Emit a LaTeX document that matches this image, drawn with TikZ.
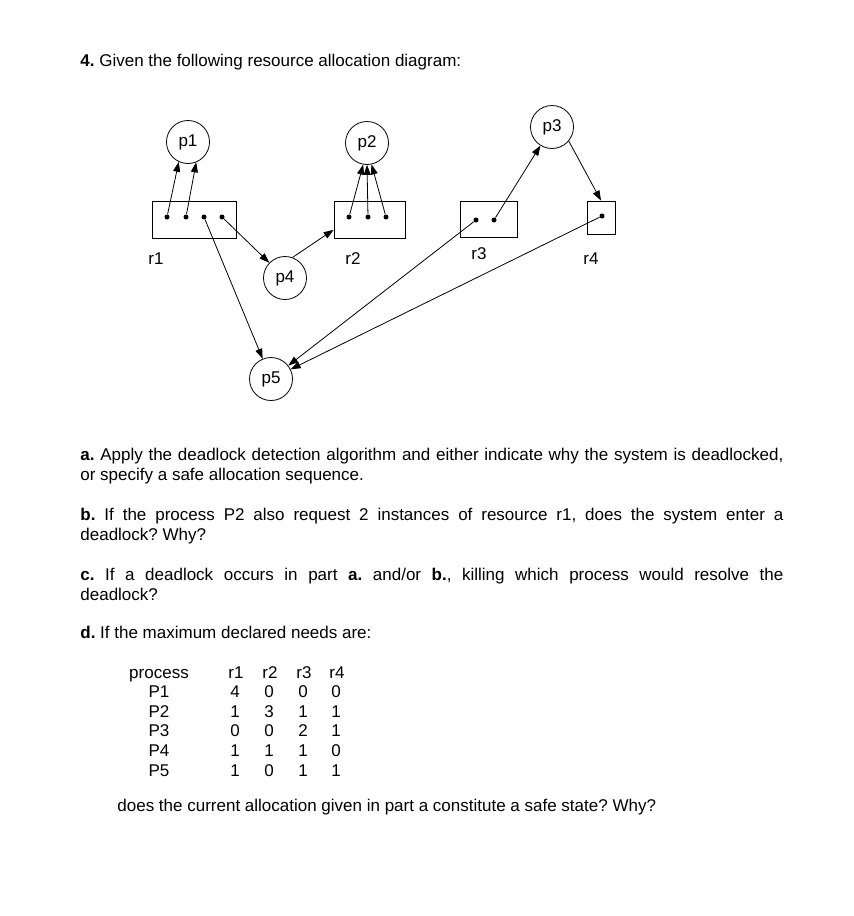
\documentclass[tikz,border=0pt]{standalone}
\usepackage{fontspec}
\setmainfont{Liberation Sans}
\usetikzlibrary{positioning,arrows.meta}

\newcommand{\bodysize}{\fontsize{17}{20}\selectfont}
\frenchspacing

\begin{document}
\begin{tikzpicture}[x=1pt,y=-1pt,line width=0.8pt,
  >={Triangle[length=10pt,width=7pt]},font=\bodysize]
  \tikzset{proc/.style={circle,draw,minimum size=43pt,inner sep=0pt},
           res/.style={draw,inner sep=0pt,minimum height=37pt},
           tok/.style={circle,fill,inner sep=0pt,minimum size=5pt},
           line/.style={anchor=base west,inner sep=0pt},
           cell/.style={anchor=base,inner sep=0pt}}
  \useasboundingbox (0,0) rectangle (854,916);

  \node[line] (title) at (80,66) {\textbf{4.} Given the following resource allocation diagram:};

  % processes
  \node[proc] (p1) at (188,142) {p1};
  \node[proc] (p2) at (367,143) {p2};
  \node[proc] (p3) at (552,127) {p3};
  \node[proc] (p4) at (285,278) {p4};
  \node[proc] (p5) at (271,379) {p5};

  % resources
  \node[res,minimum width=84pt] (r1) at (194,219.5) {};
  \node[res,minimum width=71pt] (r2) at (369.5,219.5) {};
  \node[res,minimum width=57pt,minimum height=36pt] (r3) at (488.5,219) {};
  \node[res,minimum width=28pt,minimum height=33pt] (r4) at (601,217.5) {};
  \node (r1lab) at (156,259) {r1};
  \node (r2lab) at (353,259) {r2};
  \node (r3lab) at (479,253.5) {r3};
  \node (r4lab) at (591,259) {r4};

  % instances
  \node[tok] (r1t1) at (167,217) {};
  \node[tok] (r1t2) at (186,217) {};
  \node[tok] (r1t3) at (204,217) {};
  \node[tok] (r1t4) at (222,217) {};
  \node[tok] (r2t1) at (349,217) {};
  \node[tok] (r2t2) at (368,217) {};
  \node[tok] (r2t3) at (386,217) {};
  \node[tok] (r3t1) at (476,220) {};
  \node[tok] (r3t2) at (494,220) {};
  \node[tok] (r4t1) at (602,216) {};

  \path[->]
  (r1t1)   edge (p1.245)
  (r1t2)   edge (p1.292)
  (r1t3)   edge (p5)
  (r1t4)   edge (p4)
  (p4.70)  edge (r2.196)
  (r2t1)   edge (p2.260)
  (r2t2)   edge (p2.270)
  (r2t3)   edge (p2.282)
  (r3t2)   edge (p3)
  (p3.320) edge (r4.north)
  (r3t1)   edge (p5)
  (r4t1)   edge (p5);

  % questions
  \node[line] (qa1) at (80,460) {\makebox[703pt][s]{\textbf{a.} Apply the deadlock detection algorithm and either indicate why the system is deadlocked,}};
  \node[line] (qa2) at (80,480) {or specify a safe allocation sequence.};
  \node[line] (qb1) at (80,520) {\makebox[703pt][s]{\textbf{b.} If the process P2 also request 2 instances of resource r1, does the system enter a}};
  \node[line] (qb2) at (80,540) {deadlock? Why?};
  \node[line] (qc1) at (80,580) {\makebox[703pt][s]{\textbf{c.} If a deadlock occurs in part \textbf{a.} and/or \textbf{b.}, killing which process would resolve the}};
  \node[line] (qc2) at (80,600) {deadlock?};
  \node[line] (qd) at (80,638.5) {\textbf{d.} If the maximum declared needs are:};

  % maximum needs
  \node[cell] (hproc) at (159,678) {process};
  \node[cell] (hr1) at (236,678) {r1};
  \node[cell] (hr2) at (270,678) {r2};
  \node[cell] (hr3) at (304,678) {r3};
  \node[cell] (hr4) at (337,678) {r4};
  \foreach \pn/\na/\nb/\nc/\nd [count=\i] in
    {P1/4/0/0/0, P2/1/3/1/1, P3/0/0/2/1, P4/1/1/1/0, P5/1/0/1/1} {
    \node[cell] (P\i) at (159,678+19.6*\i) {\pn};
    \node[cell] (n\i a) at (235,678+19.6*\i) {\na};
    \node[cell] (n\i b) at (269,678+19.6*\i) {\nb};
    \node[cell] (n\i c) at (303,678+19.6*\i) {\nc};
    \node[cell] (n\i d) at (336,678+19.6*\i) {\nd};
  }

  \node[line] (qe) at (117,811) {does the current allocation given in part a constitute a safe state? Why?};
\end{tikzpicture}
\end{document}
